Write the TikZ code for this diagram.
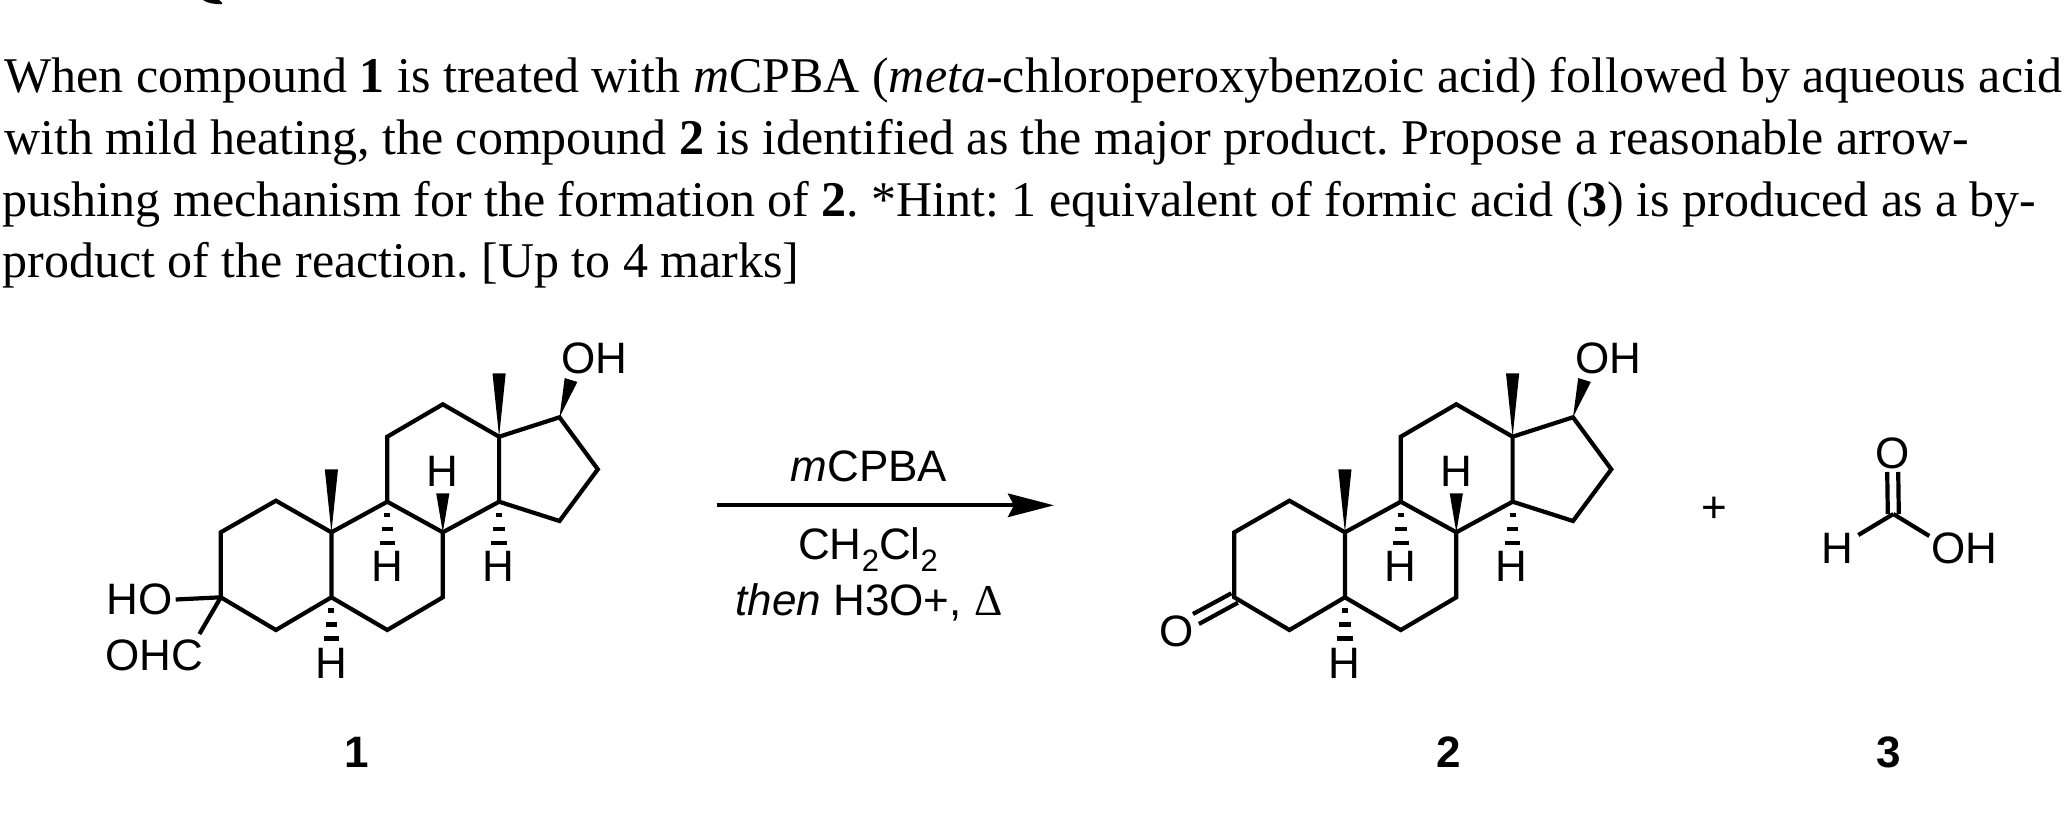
\documentclass[tikz,border=0pt]{standalone}
\usepackage{fontspec}
\setmainfont{Liberation Serif}
\setsansfont{Liberation Sans}
\usepackage{tikz}
\usetikzlibrary{arrows.meta,calc}
\newcommand{\atomfont}{\sffamily\fontsize{22}{22}\selectfont}
\newcommand{\prosefont}{\rmfamily\fontsize{25}{25}\selectfont\frenchspacing}
\newcommand{\lowsub}[1]{\raisebox{-.28em}{\fontsize{15.5}{15.5}\selectfont #1}}
\tikzset{
  bond/.style={line width=2.1pt,line join=miter},
  atom/.style={inner sep=1.5pt,font=\atomfont},
  prose/.style={anchor=base west,inner sep=0pt,font=\prosefont},
  reagent/.style={anchor=base,inner sep=0pt,font=\atomfont},
  compoundlabel/.style={inner sep=0pt,font=\atomfont\bfseries},
}
\newcommand{\wedgebond}[2]{\fill (#1) -- ($(#2)!3.3pt!90:(#1)$) -- ($(#2)!3.3pt!-90:(#1)$) -- cycle;}
\newcommand{\hashbond}[1]{%
  \foreach \hashdy/\hashw in {13/3,27/5.7,41/7.7}
    \draw[line width=2.2pt] ($(#1)+(-\hashw,\hashdy)$) -- ($(#1)+(\hashw,\hashdy)$);}
\newcommand{\steroidskeleton}[2]{%
\begin{scope}[xshift=#2*0.5]
\coordinate (#1cthree)    at (220.8,597.3);
\coordinate (#1ctwo)      at (220.8,532.3);
\coordinate (#1cone)      at (275.9,500.7);
\coordinate (#1cten)      at (331.4,532.3);
\coordinate (#1cfive)     at (331.4,597.3);
\coordinate (#1cfour)     at (275.9,630);
\coordinate (#1csix)      at (387.3,630);
\coordinate (#1cseven)    at (442.8,597.3);
\coordinate (#1ceight)    at (442.8,532.3);
\coordinate (#1cnine)     at (387.3,501.7);
\coordinate (#1celeven)   at (387.3,436.7);
\coordinate (#1ctwelve)   at (442.8,404.3);
\coordinate (#1cthirteen) at (499.1,436.7);
\coordinate (#1cfourteen) at (499.1,501.7);
\coordinate (#1cfifteen)  at (559.5,521);
\coordinate (#1csixteen)  at (597.8,469.3);
\coordinate (#1cseventeen) at (559.5,417.3);
\coordinate (#1metop)     at (499.1,373.3);
\coordinate (#1melow)     at (331.4,469.3);
\coordinate (#1ohtip)     at (571,380);
\coordinate (#1htip)      at (442.8,493.3);
\node[atom] (#1oh)    at (594.7,358.5)  {OH};
\node[atom] (#1height) at (442.4,471.5) {H};
\node[atom] (#1hnine) at (386.9,566.7) {H};
\node[atom] (#1hfourteen) at (497.9,566.7) {H};
\node[atom] (#1hfive) at (331,663.3) {H};

\draw[bond] (#1cthree) -- (#1ctwo) -- (#1cone) -- (#1cten) -- (#1cfive) -- (#1cfour) -- cycle;
\draw[bond] (#1cfive) -- (#1csix) -- (#1cseven) -- (#1ceight) -- (#1cnine) -- (#1cten);
\draw[bond] (#1cnine) -- (#1celeven) -- (#1ctwelve) -- (#1cthirteen) -- (#1cfourteen) -- (#1ceight);
\draw[bond] (#1cthirteen) -- (#1cseventeen) -- (#1csixteen) -- (#1cfifteen) -- (#1cfourteen);
\wedgebond{#1cthirteen}{#1metop}
\wedgebond{#1cten}{#1melow}
\wedgebond{#1cseventeen}{#1ohtip}
\wedgebond{#1ceight}{#1htip}
\hashbond{#1cnine}
\hashbond{#1cfourteen}
\hashbond{#1cfive}
\end{scope}}

\begin{document}
\begin{tikzpicture}[x=0.5pt,y=-0.5pt]
\useasboundingbox (0,0) rectangle (2071,835);
% question text
\fill (203,0) .. controls (207,3) and (214,4.5) .. (222,4) -- (222,2.5) -- (219,0) -- cycle;
\node[prose] (lineone)   at (4,92)  {When compound \textbf{1} is treated with \textit{m}CPBA (\textit{meta}-chloroperoxybenzoic acid) followed by aqueous acid};
\node[prose] (linetwo)   at (4,154) {with mild heating, the compound \textbf{2} is identified as the major product. Propose a reasonable arrow-};
\node[prose] (linethree) at (2,216) {pushing mechanism for the formation of \textbf{2}. *Hint: 1 equivalent of formic acid (\textbf{3}) is produced as a by-};
\node[prose] (linefour)  at (2,277) {product of the reaction. [Up to 4 marks]};

% compound 1
\steroidskeleton{one}{0}
\node[atom] (oneho)  at (139.3,599.5) {HO};
\node[atom] (oneohc) at (153.9,655) {OHC};
\coordinate (oneohcbond) at (199.4,634);
\draw[bond] (oneho.east) -- (onecthree);
\draw[bond] (onecthree) -- (oneohcbond);

% compound 2
\steroidskeleton{two}{1013.5}
\node[atom] (twoketo) at (1177,631) {O};
\coordinate (twoketoup) at (1193,614);
\coordinate (twoketolow) at (1198.9,624);
\coordinate (twoketoupc) at (1231.4,593.3);
\coordinate (twoketolowc) at (1237.9,602.7);
\draw[bond] (twoketoup) -- (twoketoupc);
\draw[bond] (twoketolow) -- (twoketolowc);

% reaction arrow
\coordinate (arrowstart) at (716.7,505.3);
\coordinate (arrowend)   at (1054,505.3);
\draw[bond,-{Stealth[length=23pt,width=11.7pt,inset=3pt]}] (arrowstart) -- (arrowend);
\node[reagent] (reagentone)   at (869,481.7) {\textit{m}CPBA};
\node[reagent] (reagenttwo)   at (868,559.3) {CH\lowsub{2}Cl\lowsub{2}};
\node[reagent] (reagentthree) at (869,615)   {\textit{then} H3O+, {\rmfamily Δ}};

% plus and formic acid
\node[atom] (plus) at (1714,510) {+};
\coordinate (formicc) at (1893.3,514);
\node[atom] (formico)  at (1892.7,453) {O};
\node[atom] (formich)  at (1837,548.3)   {H};
\node[atom] (formicoh) at (1964,548.3)   {OH};
\coordinate (formicohbond) at (1929.3,536);
\coordinate (formichbond)  at (1858.3,535);
\draw[bond] (formicc) -- (formichbond);
\draw[bond] (formicc) -- (formicohbond);
\draw[bond] ([xshift=-2.75pt]formicc) -- ([xshift=-2.75pt]formico.south);
\draw[bond] ([xshift=2.75pt]formicc) -- ([xshift=2.75pt]formico.south);

% compound labels
\node[compoundlabel] (labelone)   at (356.6,752) {1};
\node[compoundlabel] (labeltwo)   at (1449,752)  {2};
\node[compoundlabel] (labelthree) at (1889,752)  {3};
\end{tikzpicture}
\end{document}
